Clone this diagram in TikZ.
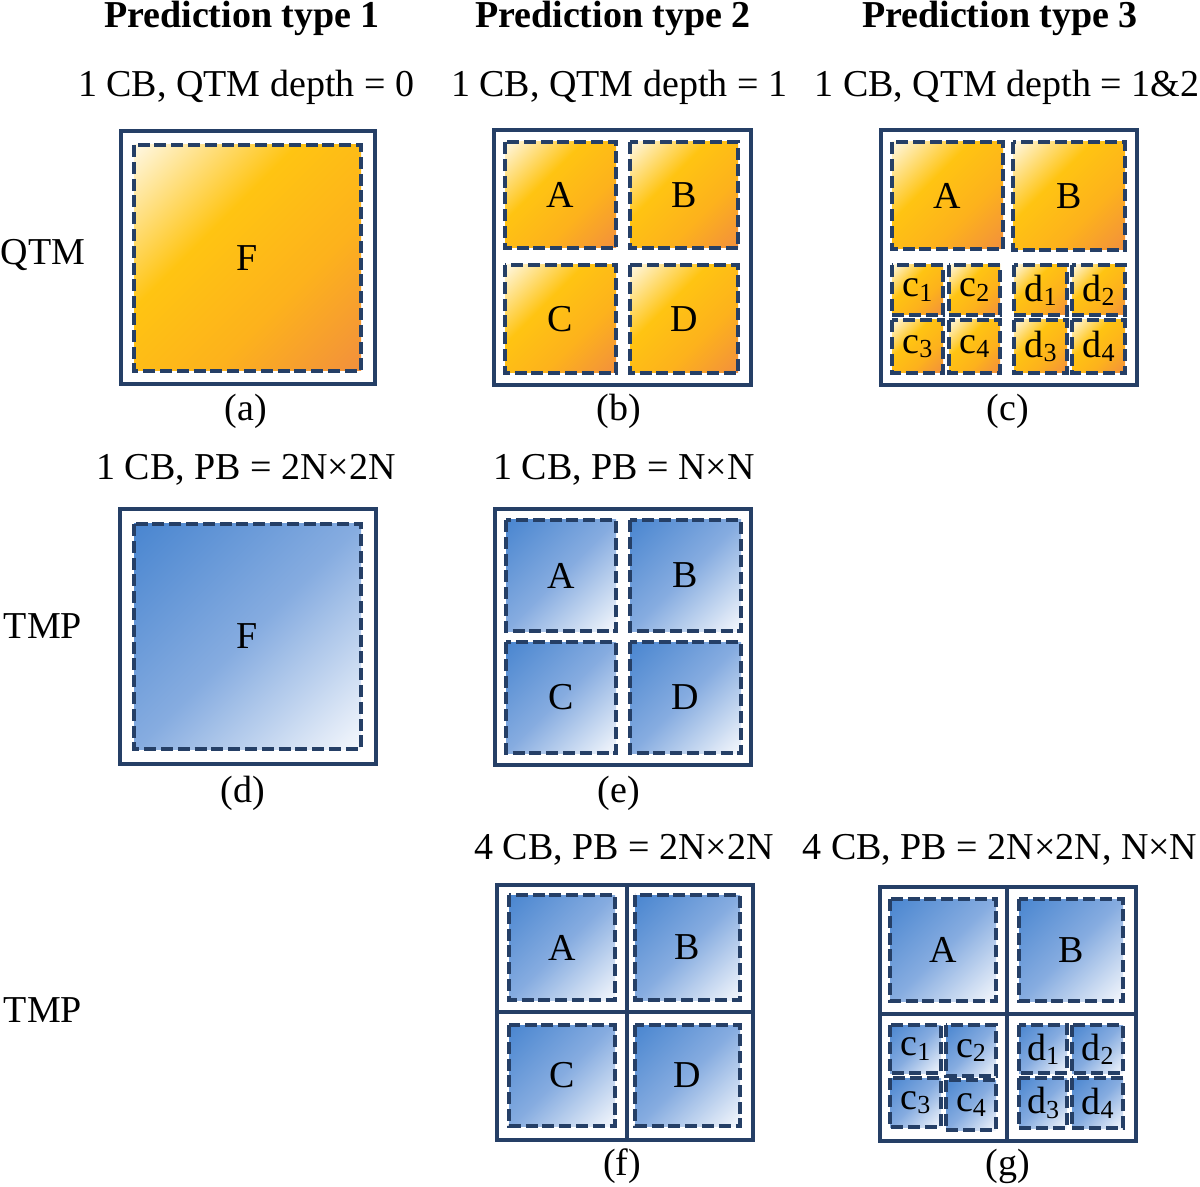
\documentclass[tikz,border=0pt]{standalone}
\usepackage{fontspec}
\setmainfont{Liberation Serif}
\definecolor{navy}{HTML}{253F66}
\definecolor{oA}{HTML}{FFF7E0}
\definecolor{oB}{HTML}{FFC412}
\definecolor{oC}{HTML}{FDB21C}
\definecolor{oD}{HTML}{F2903C}
\definecolor{bA}{HTML}{4A86D0}
\definecolor{bB}{HTML}{86ACE0}
\definecolor{bC}{HTML}{F4F7FC}
\pgfdeclarehorizontalshading{orgrad}{100bp}{color(0bp)=(oA); color(15bp)=(oA); color(40bp)=(oB); color(62bp)=(oC); color(85bp)=(oD); color(100bp)=(oD)}
\pgfdeclarehorizontalshading{blgrad}{100bp}{color(0bp)=(bA); color(15bp)=(bA); color(50bp)=(bB); color(85bp)=(bC); color(100bp)=(bC)}
\newcommand\sbs[1]{{\fontsize{13}{13}\selectfont\raisebox{-0.35ex}{#1}}}
\newcommand\pbox[7]{%
  \shade[shading=#1,shading angle=-45] (#2,-#3) rectangle (#4,-#5);
  \draw[dbox] (#2,-#3) rectangle (#4,-#5);
  \node[lbl] (#6) at ({(#2+#4)/2},{-(#3+#5)/2}) {#7};}
\tikzset{
  outerbox/.style={draw=navy,line width=2.4pt},
  dbox/.style={draw=navy,line width=2.1pt,dash pattern=on 6pt off 2.4pt},
  lbl/.style={font=\fontsize{19}{22}\selectfont,inner sep=0pt},
  txt/.style={font=\fontsize{19}{22}\selectfont,inner sep=0pt,anchor=base},
  hdr/.style={font=\fontsize{19}{22}\selectfont\bfseries,inner sep=0pt,anchor=base}
}
\begin{document}
\begin{tikzpicture}[x=0.5pt,y=0.5pt]
\useasboundingbox (0,0) rectangle (1200,-1187);
% headers
\node[hdr] (h1) at (242,-28) {Prediction type 1};
\node[hdr] (h2) at (613,-28) {Prediction type 2};
\node[hdr] (h3) at (1000,-28) {Prediction type 3};
% subtitles
\node[txt] (s1) at (246,-97) {1 CB, QTM depth = 0};
\node[txt] (s2) at (619,-97) {1 CB, QTM depth = 1};
\node[txt] (s3) at (1007,-97) {1 CB, QTM depth = 1\&2};
\node[txt] (s4) at (246,-480) {1 CB, PB = 2N×2N};
\node[txt] (s5) at (624,-480) {1 CB, PB = N×N};
\node[txt] (s6) at (624,-859) {4 CB, PB = 2N×2N};
\node[txt] (s7) at (1000,-859) {4 CB, PB = 2N×2N, N×N};
% row labels
\node[txt] (r1) at (43,-265) {QTM};
\node[txt] (r2) at (43,-639) {TMP};
\node[txt] (r3) at (43,-1022) {TMP};
% captions
\node[txt] (ca) at (246,-421) {(a)};
\node[txt] (cb) at (619,-421) {(b)};
\node[txt] (cc) at (1008,-421) {(c)};
\node[txt] (cd) at (243,-802) {(d)};
\node[txt] (ce) at (619,-802) {(e)};
\node[txt] (cf) at (622,-1175) {(f)};
\node[txt] (cg) at (1008,-1175) {(g)};
% (a)
\draw[outerbox] (121,-131) rectangle (375,-384);
\pbox{orgrad}{134}{145}{361}{371}{aF}{F}
% (b)
\draw[outerbox] (494,-130) rectangle (751,-385);
\pbox{orgrad}{505}{142}{616}{248}{bA}{A}
\pbox{orgrad}{630}{142}{738}{248}{bB}{B}
\pbox{orgrad}{505}{265}{616}{373}{bC}{C}
\pbox{orgrad}{630}{265}{738}{373}{bD}{D}
% (c)
\draw[outerbox] (881,-130) rectangle (1137,-385);
\pbox{orgrad}{892}{142}{1003}{249}{cA}{A}
\pbox{orgrad}{1013}{142}{1125}{250}{cB}{B}
\pbox{orgrad}{892}{265}{943}{315}{cc1}{c\sbs{1}}
\pbox{orgrad}{949}{265}{1000}{315}{cc2}{c\sbs{2}}
\pbox{orgrad}{892}{320}{943}{373}{cc3}{c\sbs{3}}
\pbox{orgrad}{949}{320}{1000}{373}{cc4}{c\sbs{4}}
\pbox{orgrad}{1014}{265}{1067}{315}{cd1}{d\sbs{1}}
\pbox{orgrad}{1072}{265}{1125}{315}{cd2}{d\sbs{2}}
\pbox{orgrad}{1014}{320}{1067}{373}{cd3}{d\sbs{3}}
\pbox{orgrad}{1072}{320}{1125}{373}{cd4}{d\sbs{4}}
% (d)
\draw[outerbox] (120,-509) rectangle (376,-764);
\pbox{blgrad}{134}{524}{361}{749}{dF}{F}
% (e)
\draw[outerbox] (495,-509) rectangle (751,-765);
\pbox{blgrad}{506}{520}{616}{631}{eA}{A}
\pbox{blgrad}{630}{520}{741}{631}{eB}{B}
\pbox{blgrad}{506}{642}{616}{753}{eC}{C}
\pbox{blgrad}{630}{642}{741}{753}{eD}{D}
% (f)
\draw[outerbox] (497,-885) rectangle (753,-1140);
\draw[outerbox] (627,-885) -- (627,-1140) (497,-1012) -- (753,-1012);
\pbox{blgrad}{509}{895}{615}{1000}{fA}{A}
\pbox{blgrad}{635}{895}{740}{1000}{fB}{B}
\pbox{blgrad}{509}{1025}{615}{1126}{fC}{C}
\pbox{blgrad}{635}{1025}{740}{1126}{fD}{D}
% (g)
\draw[outerbox] (880,-887) rectangle (1136,-1141);
\draw[outerbox] (1007,-887) -- (1007,-1141) (880,-1014) -- (1136,-1014);
\pbox{blgrad}{890}{899}{996}{1001}{gA}{A}
\pbox{blgrad}{1019}{899}{1123}{1001}{gB}{B}
\pbox{blgrad}{890}{1025}{941}{1073}{gc1}{c\sbs{1}}
\pbox{blgrad}{946}{1025}{996}{1076}{gc2}{c\sbs{2}}
\pbox{blgrad}{890}{1078}{941}{1127}{gc3}{c\sbs{3}}
\pbox{blgrad}{946}{1080}{996}{1130}{gc4}{c\sbs{4}}
\pbox{blgrad}{1019}{1025}{1067}{1073}{gd1}{d\sbs{1}}
\pbox{blgrad}{1072}{1025}{1123}{1073}{gd2}{d\sbs{2}}
\pbox{blgrad}{1019}{1078}{1067}{1128}{gd3}{d\sbs{3}}
\pbox{blgrad}{1072}{1078}{1123}{1128}{gd4}{d\sbs{4}}
\end{tikzpicture}
\end{document}
